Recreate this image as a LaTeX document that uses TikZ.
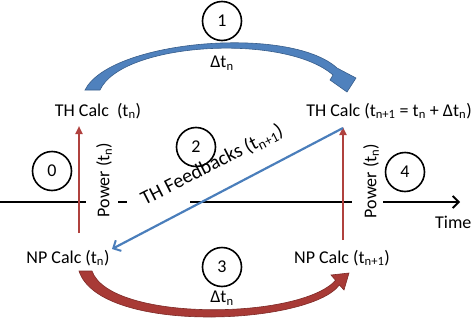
\documentclass[tikz,border=0pt]{standalone}
\usepackage{fontspec}
\setmainfont{Carlito}
\usetikzlibrary{arrows.meta}
\definecolor{bluefill}{HTML}{4F81BD}
\definecolor{blueedge}{HTML}{385D8A}
\definecolor{redfill}{HTML}{A83A36}
\definecolor{rededge}{HTML}{7E2A27}
\definecolor{redline}{HTML}{B0413E}
\definecolor{fbblue}{HTML}{4A7EBB}
\newcommand{\sbs}[1]{\textsubscript{#1}}
\begin{document}
\begin{tikzpicture}[x=1pt,y=-1pt,
  lbl/.style={font=\fontsize{18}{20}\selectfont, inner sep=1pt},
  num/.style={draw=black, line width=1.6pt, circle, minimum size=39pt, inner sep=0pt, font=\fontsize{18}{20}\selectfont},
  axisline/.style={line width=1.8pt, black},
  powerarrow/.style={redline, line width=2pt, -{Triangle[length=8pt,width=7pt]}},
  fbarrow/.style={fbblue, line width=2.2pt, -{Straight Barb[length=6pt,width=12pt,line width=2pt]}},
  bigblue/.style={fill=bluefill, draw=blueedge, line width=0.6pt},
  bigred/.style={fill=redfill, draw=rededge, line width=0.6pt},
]
\useasboundingbox (0,0) rectangle (474,319);

% circled step numbers
\node[num] (c0) at (52,171) {0};
\node[num] (c1) at (222,21) {1};
\node[num] (c2) at (196,147) {2};
\node[num] (c3) at (222,267) {3};
\node[num] (c4) at (405,172) {4};

% calculation labels
\node[lbl] (thc) at (98,111) {TH Calc\ \ (t\sbs{n})};
\node[lbl] (thn) at (389,111) {TH Calc (t\sbs{n+1} = t\sbs{n} + Δt\sbs{n})};
\node[lbl] (npc) at (68,258) {NP Calc (t\sbs{n})};
\node[lbl] (npn) at (342,258) {NP Calc (t\sbs{n+1})};

% time axis
\coordinate (ax0) at (0,202);
\coordinate (ax1) at (86,202);
\coordinate (ax2) at (118,202);
\coordinate (ax3) at (127,202);
\coordinate (ax4) at (190,202);
\coordinate (ax5) at (352,202);
\coordinate (ax6) at (383,202);
\coordinate (ax7) at (460,202);
\draw[axisline] (ax0) -- (ax1);
\draw[axisline] (ax2) -- (ax3);
\draw[axisline] (ax4) -- (ax5);
\draw[axisline, -{Straight Barb[length=6pt,width=12pt,line width=1.8pt]}] (ax6) -- (ax7);
\node[lbl, anchor=west] (time) at (434,222) {Time};

% power arrows
\coordinate (lpfoot) at (79,233);
\coordinate (lptop) at (79,126);
\coordinate (rpfoot) at (343,240);
\coordinate (rptop) at (343,127);
\draw[powerarrow] (lpfoot) -- (lptop);
\draw[powerarrow] (rpfoot) -- (rptop);
\node[lbl, rotate=90] (pl) at (104,180) {Power (t\sbs{n})};
\node[lbl, rotate=90] (pr) at (371,181) {Power (t\sbs{n})};

% TH feedbacks
\coordinate (fbstart) at (343,128);
\coordinate (fbend) at (112,249);
\draw[fbarrow] (fbstart) -- (fbend);
\node[lbl, rotate=27, font=\fontsize{20}{22}\selectfont] (fb) at (212,165) {TH Feedbacks (t\sbs{n+1})};

% big curved arrows
\path[bigblue] (85,90) .. controls (110,40) and (290,25) .. (337,68)
  -- (356,78) -- (347,92) -- (330,80) -- (333,75)
  .. controls (285,33) and (122,42) .. (100,90) -- cycle;
\node[lbl] (dt1) at (222,63) {Δt\sbs{n}};

\path[bigred] (79,271) .. controls (100,335) and (310,325) .. (339.4,284.9)
  -- (344,290) -- (349,273) -- (331,275) -- (335.6,280.3)
  .. controls (300,320) and (110,322) .. (92,271) -- cycle;
\node[lbl] (dt3) at (222,298) {Δt\sbs{n}};
\end{tikzpicture}
\end{document}
